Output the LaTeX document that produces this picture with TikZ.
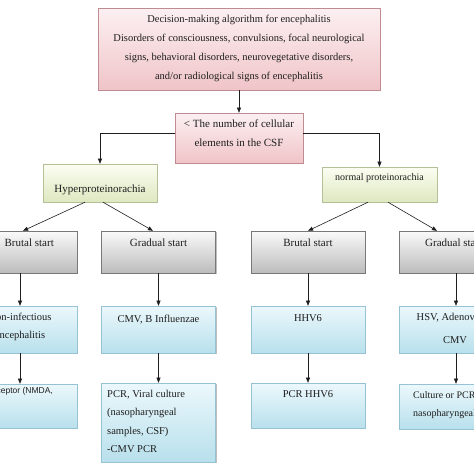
\documentclass[tikz,border=0pt]{standalone}
\usepackage{fontspec}
\setmainfont{Liberation Serif}
\newfontfamily\arialfont{Liberation Sans}
\usetikzlibrary{arrows.meta, positioning, shadows}
\definecolor{pinktop}{RGB}{252, 240, 242}
\definecolor{pinkbot}{RGB}{240, 196, 200}
\definecolor{pinkedge}{RGB}{190, 140, 145}
\definecolor{greentop}{RGB}{252, 253, 242}
\definecolor{greenbot}{RGB}{222, 232, 192}
\definecolor{greenedge}{RGB}{180, 192, 150}
\definecolor{graytop}{RGB}{250, 250, 250}
\definecolor{graybot}{RGB}{188, 188, 188}
\definecolor{grayedge}{RGB}{120, 120, 120}
\definecolor{bluetop}{RGB}{236, 248, 252}
\definecolor{bluebot}{RGB}{184, 224, 236}
\definecolor{blueedge}{RGB}{150, 195, 212}
\definecolor{inkgray}{RGB}{30, 30, 30}
\tikzset{
  shadowed/.style={drop shadow={shadow xshift=1.3pt, shadow yshift=-1.3pt, fill=black, opacity=0.25}},
  pinkbox/.style={rectangle, draw=pinkedge, top color=pinktop, bottom color=pinkbot, shadowed},
  greenbox/.style={rectangle, draw=greenedge, top color=greentop, bottom color=greenbot, shadowed},
  graybox/.style={rectangle, draw=grayedge, top color=graytop, bottom color=graybot, shadowed},
  bluebox/.style={rectangle, draw=blueedge, top color=bluetop, bottom color=bluebot, shadowed},
  txt/.style={inner sep=0pt, text=inkgray, font=\fontsize{10.5}{18}\selectfont},
  flow/.style={-{Triangle[length=1.8mm, width=1.4mm]}, draw=inkgray, line width=0.6pt},
  link/.style={draw=inkgray, line width=0.6pt},
}
\begin{document}
\begin{tikzpicture}[x=1pt, y=-1pt]
  \useasboundingbox (0,0) rectangle (474,474);
  \clip (0,0) rectangle (474,474);

  % head of the algorithm
  \node[pinkbox, minimum width=282pt, minimum height=82pt] (head) at (239,49) {};
  \node[txt, anchor=north, align=center, font=\fontsize{10.5}{19}\selectfont] (headt) at (239,14.8)
    {Decision-making algorithm for encephalitis\\
     Disorders of consciousness, convulsions, focal neurological\\
     signs, behavioral disorders, neurovegetative disorders,\\
     and/or radiological signs of encephalitis};
  \node[pinkbox, minimum width=128pt, minimum height=50pt] (csf) at (239,138) {};
  \node[txt, anchor=north, align=center, font=\fontsize{11}{19}\selectfont] (csft) at (239,119.5)
    {< The number of cellular\\ elements in the CSF};

  % protein level
  \node[greenbox, minimum width=114pt, minimum height=38pt] (hyper) at (100,183) {};
  \node[txt, anchor=base, font=\fontsize{11}{18}\selectfont] (hypert) at (100,192) {Hyperproteinorachia};
  \node[greenbox, minimum width=115pt, minimum height=35pt] (normal) at (379.5,184.5) {};
  \node[txt, anchor=base, font=\fontsize{10}{18}\selectfont] (normalt) at (379.5,180) {normal proteinorachia};

  % onset
  \node[graybox, minimum width=114pt, minimum height=42pt] (bs1) at (20,252) {};
  \node[graybox, minimum width=114pt, minimum height=42pt] (gs1) at (158.5,252) {};
  \node[graybox, minimum width=114pt, minimum height=42pt] (bs2) at (308,252) {};
  \node[graybox, minimum width=114pt, minimum height=42pt] (gs2) at (456,252) {};
  \node[txt, anchor=base east, font=\fontsize{11}{18}\selectfont] (bs1t) at (54,246) {Brutal start};
  \node[txt, anchor=base, font=\fontsize{11}{18}\selectfont] (gs1t) at (158.5,246) {Gradual start};
  \node[txt, anchor=base, font=\fontsize{11}{18}\selectfont] (bs2t) at (308,246) {Brutal start};
  \node[txt, anchor=base west, font=\fontsize{11}{18}\selectfont] (gs2t) at (425,246) {Gradual start};

  % agents
  \node[bluebox, minimum width=114pt, minimum height=47pt] (agent1) at (20,329.5) {};
  \node[bluebox, minimum width=114pt, minimum height=47pt] (agent2) at (158.5,329.5) {};
  \node[bluebox, minimum width=114pt, minimum height=47pt] (agent3) at (308,329.5) {};
  \node[bluebox, minimum width=114pt, minimum height=47pt] (agent4) at (456,329.5) {};
  \node[txt, anchor=north, align=center] (agent1t) at (20,313) {Non-infectious\\ encephalitis};
  \node[txt, anchor=base] (agent2t) at (158.5,322) {CMV, B Influenzae};
  \node[txt, anchor=base] (agent3t) at (308,321) {HHV6};
  \node[txt, anchor=north, align=center, font=\fontsize{10.5}{23}\selectfont] (agent4t) at (455,313)
    {HSV, Adenovirus,\\ CMV};

  % tests
  \node[bluebox, minimum width=114pt, minimum height=44pt] (test1) at (20,406) {};
  \node[bluebox, minimum width=114pt, minimum height=79pt] (test2) at (158.5,422.5) {};
  \node[bluebox, minimum width=114pt, minimum height=45pt] (test3) at (308,405.5) {};
  \node[bluebox, minimum width=114pt, minimum height=45pt] (test4) at (456,406.5) {};
  \node[txt, anchor=base east, font=\arialfont\fontsize{8.5}{14}\selectfont] (test1t) at (53,393) {Anti-receptor (NMDA,};
  \node[txt, anchor=north west, align=left, font=\fontsize{10.5}{18.3}\selectfont] (test2t) at (107,390)
    {PCR, Viral culture\\ (nasopharyngeal\\ samples, CSF)\\ -CMV PCR};
  \node[txt, anchor=base] (test3t) at (308,397) {PCR HHV6};
  \node[txt, anchor=north west, align=left, font=\fontsize{10}{18}\selectfont] (test4t) at (413,391)
    {Culture or PCR\\ nasopharyngeal};

  % connectors
  \draw[flow] (head) -- (csf);
  \draw[flow] ([yshift=5pt]csf.west) -| (hyper.north);
  \draw[flow] ([yshift=5pt]csf.east) -| (normal.north);
  \draw[flow] ([xshift=-15pt]hyper.south) -- ([xshift=3pt]bs1.north);
  \draw[flow] ([xshift=3pt]hyper.south) -- ([xshift=-5.5pt]gs1.north);
  \draw[flow] ([xshift=-11.5pt]normal.south) -- (bs2.north);
  \draw[flow] ([xshift=8.5pt]normal.south) -- ([xshift=-19pt]gs2.north);
  \foreach \col in {1,2,3,4}{
    \draw[flow] (\ifcase\col\or bs1\or gs1\or bs2\or gs2\fi) -- (agent\col);
    \draw[flow] (agent\col) -- (test\col);
  }
\end{tikzpicture}
\end{document}
